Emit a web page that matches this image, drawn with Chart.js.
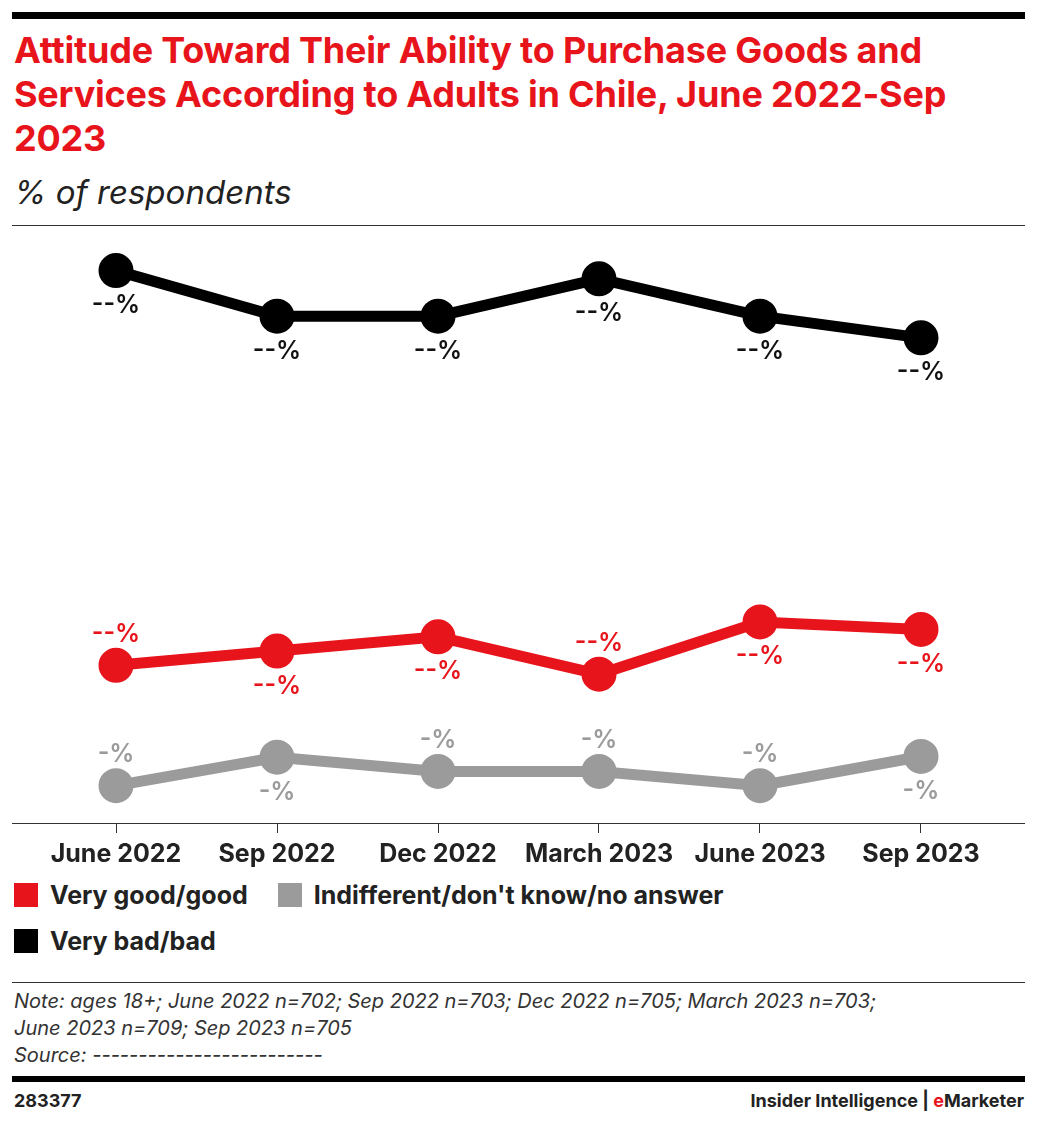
<!DOCTYPE html>
<html>
<head>
<meta charset="utf-8">
<script src="https://cdn.jsdelivr.net/npm/chart.js@4"></script>
<style>
  body { margin: 0; width: 1038px; height: 1125px; background: #fff; font-family: Inter, "Liberation Sans", sans-serif; position: relative; }
  .bar { position: absolute; left: 12px; width: 1013px; background: #000; }
  .title { position: absolute; left: 14px; top: 28px; width: 975px; color: #e8141c; font-weight: 700; font-size: 36px; line-height: 44px; letter-spacing: -0.2px; }
  .sub { position: absolute; left: 14px; top: 172px; font-style: italic; font-size: 33px; color: #222; }
  .rule { position: absolute; left: 12px; width: 1013px; height: 1px; background: #333; }
  #wrap { position: absolute; left: 12px; top: 225px; width: 1013px; height: 650px; }
  .legend { position: absolute; left: 14px; font-size: 25px; font-weight: 700; color: #222; display: flex; align-items: center; }
  .sw { width: 24px; height: 24px; margin-right: 12px; display: inline-block; }
  .note { position: absolute; left: 14px; top: 988px; font-size: 20px; font-style: italic; color: #333; line-height: 27px; }
  .foot { position: absolute; top: 1090px; font-size: 18px; font-weight: 700; color: #222; }
</style>
</head>
<body>
<div class="bar" style="top:12px;height:7px"></div>
<div class="title">Attitude Toward Their Ability to Purchase Goods and Services According to Adults in Chile, June 2022-Sep 2023</div>
<div class="sub">% of respondents</div>
<div class="rule" style="top:225px"></div>
<div id="wrap"><canvas id="c"></canvas></div>
<div class="legend" style="top:880px"><span class="sw" style="background:#e8141c"></span>Very good/good<span class="sw" style="background:#9b9b9b;margin-left:30px"></span>Indifferent/don't know/no answer</div>
<div class="legend" style="top:926px"><span class="sw" style="background:#000"></span>Very bad/bad</div>
<div class="rule" style="top:982px"></div>
<div class="note">Note: ages 18+; June 2022 n=702; Sep 2022 n=703; Dec 2022 n=705; March 2023 n=703;<br>June 2023 n=709; Sep 2023 n=705<br>Source: -------------------------</div>
<div class="bar" style="top:1076px;height:6px"></div>
<div class="foot" style="left:14px">283377</div>
<div class="foot" style="right:14px">Insider Intelligence | <span style="color:#e8141c">e</span>Marketer</div>
<script>
const categories = ["June 2022", "Sep 2022", "Dec 2022", "March 2023", "June 2023", "Sep 2023"];
const veryGood = [21.1, 23.0, 24.9, 19.9, 26.9, 25.9];
const indifferent = [5.0, 8.8, 6.9, 6.9, 5.0, 8.9];
const veryBad = [73.9, 67.8, 67.8, 72.8, 67.8, 64.9];
const goodPos = ["up", "down", "down", "up", "down", "down"];
const indiffPos = ["up", "down", "up", "up", "up", "down"];
const badPos = ["down", "down", "down", "down", "down", "down"];

function pts(arr) { return arr.map((v, i) => ({ x: i, y: v })); }
function ds(label, data, color, pos, labelColor) {
  return { label, data: pts(data), borderColor: color, backgroundColor: color, borderWidth: 11,
    pointRadius: 12, pointHoverRadius: 12, tension: 0, clip: false, pos, labelColor };
}

const labelPlugin = {
  id: "pctLabels",
  afterDatasetsDraw(chart) {
    const ctx = chart.ctx;
    ctx.save();
    ctx.font = "600 25px Inter, 'Liberation Sans', sans-serif";
    ctx.textAlign = "center";
    ctx.textBaseline = "middle";
    chart.data.datasets.forEach((d, di) => {
      chart.getDatasetMeta(di).data.forEach((p, i) => {
        const txt = d.label.startsWith("Indifferent") ? "-%" : "--%";
        ctx.fillStyle = d.labelColor;
        ctx.fillText(txt, p.x, p.y + (d.pos[i] === "up" ? -31 : 35));
      });
    });
    ctx.restore();
  }
};

new Chart(document.getElementById("c"), {
  type: "line",
  data: { datasets: [
    ds("Very bad/bad", veryBad, "#000", badPos, "#111"),
    ds("Very good/good", veryGood, "#e8141c", goodPos, "#e8141c"),
    ds("Indifferent", indifferent, "#9b9b9b", indiffPos, "#9b9b9b")
  ] },
  options: {
    responsive: true, maintainAspectRatio: false, animation: false,
    layout: { padding: 0, autoPadding: false },
    plugins: { legend: { display: false }, tooltip: { enabled: false } },
    scales: {
      x: { type: "linear", min: -0.646, max: 5.646,
        afterBuildTicks: s => { s.ticks = categories.map((_, i) => ({ value: i })); },
        ticks: { callback: v => categories[v], color: "#222", font: { size: 25, weight: 700, family: "Inter, 'Liberation Sans', sans-serif" }, padding: 6, maxRotation: 0, autoSkip: false },
        grid: { drawOnChartArea: false, color: "#333", tickLength: 10 },
        border: { color: "#333", width: 1 } },
      y: { min: 0, max: 80, display: false }
    }
  },
  plugins: [labelPlugin]
});
</script>
</body>
</html>
